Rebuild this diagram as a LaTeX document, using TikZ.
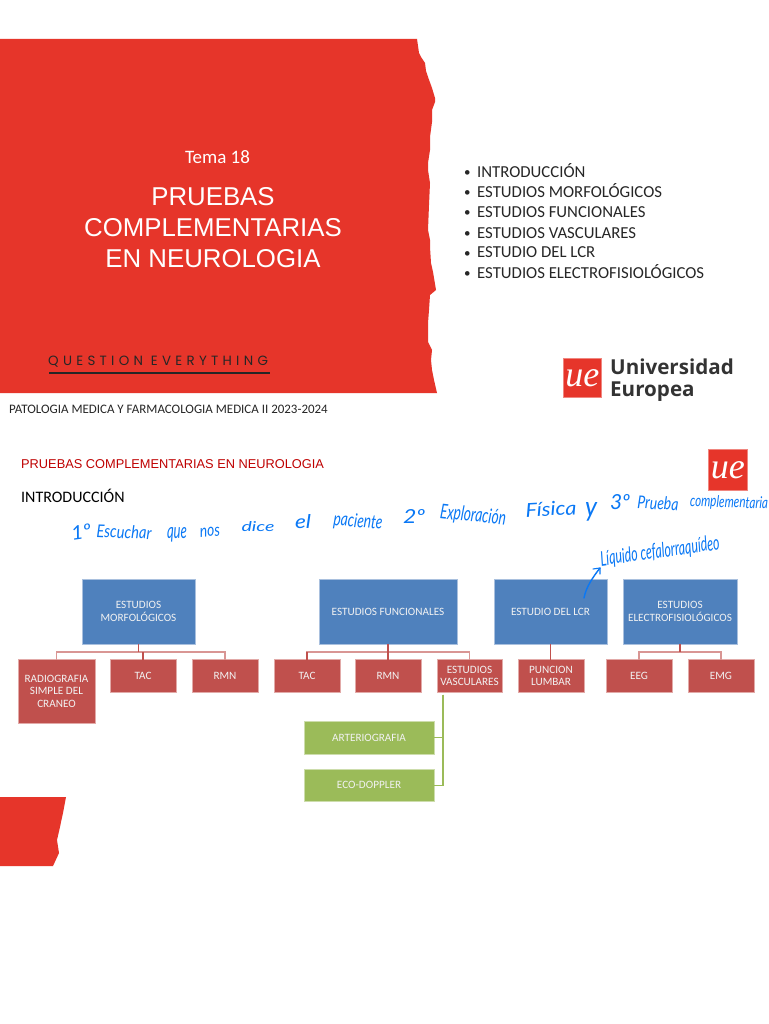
\documentclass[tikz,border=0pt]{standalone}
\usepackage{fontspec}
\setmainfont{Carlito}
\newfontfamily\arialf{Liberation Sans}
\newfontfamily\serifl{Liberation Serif}
\newfontfamily\qef[LetterSpace=32]{Poppins}
\newfontfamily\logof{Open Sans}
\newfontfamily\handf{Lato}
\definecolor{ured}{HTML}{E6352A}
\definecolor{bluebox}{HTML}{4F81BD}
\definecolor{bluebd}{HTML}{A9C0DE}
\definecolor{redbox}{HTML}{C0504D}
\definecolor{redbd}{HTML}{E2AAA8}
\definecolor{greenbox}{HTML}{9BBB59}
\definecolor{greenbd}{HTML}{CDDDAC}
\definecolor{ink}{HTML}{0A78F5}
\definecolor{bodytext}{HTML}{262626}
\definecolor{boxtext}{HTML}{F2F2F2}
\newcommand{\hw}[6]{\node[handw,rotate=#3] (#4) at (#1,#2) {\resizebox{#5pt}{#6pt}{\handf\itshape #4}};}
\tikzset{
  x=1pt,y=-1pt,
  handw/.style={inner sep=0pt,text=ink},
  boxbase/.style={anchor=north west,inner sep=0pt,outer sep=0pt,align=center,text=boxtext,line width=0.7pt,
     font=\fontsize{11.2}{12.3}\selectfont},
  bluen/.style={boxbase,fill=bluebox,draw=bluebd},
  redn/.style={boxbase,fill=redbox,draw=redbd},
  greenn/.style={boxbase,fill=greenbox,draw=greenbd},
  bus/.style={draw=redbox!60!white,line width=1.5pt},
  stem/.style={draw=redbox,line width=1.7pt},
  gline/.style={draw=greenbox,line width=1.4pt},
  listitem/.style={anchor=base west,inner sep=0pt,text=bodytext,font=\fontsize{16.75}{18}\selectfont},
  listdot/.style={anchor=base west,inner sep=0pt,text=bodytext,font=\fontsize{13}{14}\selectfont},
  logosq/.style={fill=ured,draw=ured!60!white,line width=0.5pt,anchor=north west,inner sep=0pt,text=white,
     font=\serifl\itshape\fontsize{36}{36}\selectfont},
  logoword/.style={anchor=west,inner sep=0pt,text=black!80,font=\logof\bfseries\fontsize{20.6}{22}\selectfont},
}
\begin{document}
\begin{tikzpicture}
\useasboundingbox (0,0) rectangle (768,1024);
\fill[white] (0,0) rectangle (768,1024);
% torn red panels
\fill[ured] (0,39) -- (417,39) -- (419,53) -- (421,57) -- (425,63) -- (426,71) -- (428,77) -- (432,88) -- (435,98) -- (435,102) -- (432,110) -- (432,122) -- (430,137) -- (430,150) -- (428,163) -- (428,170) -- (430,183) -- (429,205) -- (428,230) -- (430,240) -- (430,247) -- (431,263) -- (433,272) -- (436,290) -- (430,295) -- (429,310) -- (428,323) -- (428,342) -- (432,350) -- (431,360) -- (432,370) -- (434,380) -- (437,393) -- (0,393) -- cycle;
\fill[ured] (0,797) -- (66,797) -- (63,813) -- (61,822) -- (60,827) -- (57,840) -- (59,853) -- (53,866) -- (0,866) -- cycle;
% cover text
\node[text=white,inner sep=0pt,font=\fontsize{19}{22}\selectfont] (tema) at (217.5,157) {Tema 18};
\node[text=white,inner sep=0pt,align=center,font=\arialf\fontsize{25.8}{31}\selectfont] (titulo) at (213,228) {PRUEBAS\\COMPLEMENTARIAS\\EN NEUROLOGIA};
\node[anchor=west,inner sep=0pt,text=black!85,font=\qef\fontsize{13.4}{14}\selectfont] (qe) at (48,362) {QUESTION EVERYTHING};
\coordinate (qa) at (49,373); \coordinate (qb) at (270,373);
\draw[line width=1.2pt,black!85] (qa) -- (qb);
% list
\node[listdot] (l0) at (464,176.5) {•};
\node[listitem] (l1) at (477,177.5) {INTRODUCCIÓN};
\node[listdot] (m0) at (464,197) {•};
\node[listitem] (l2) at (477,198) {ESTUDIOS MORFOLÓGICOS};
\node[listdot] (n0) at (464,217) {•};
\node[listitem] (l3) at (477,218) {ESTUDIOS FUNCIONALES};
\node[listdot] (o0) at (464,237) {•};
\node[listitem] (l4) at (477,238) {ESTUDIOS VASCULARES};
\node[listdot] (p0) at (464,257) {•};
\node[listitem] (l5) at (477,258) {ESTUDIO DEL LCR};
\node[listdot] (q0) at (464,277.5) {•};
\node[listitem] (l6) at (477,278) {ESTUDIOS ELECTROFISIOLÓGICOS};
% logo
\node[logosq,minimum width=38pt,minimum height=39pt] (logo1) at (563,358) {ue};
\node[logoword] (logou) at (610,366.5) {Universidad};
\node[logoword] (logoe) at (610,391.5) {Europea};
\node[anchor=west,inner sep=0pt,text=bodytext,font=\fontsize{12.95}{15}\selectfont] (pat) at (9,409) {PATOLOGIA MEDICA Y FARMACOLOGIA MEDICA II 2023-2024};
% slide 2 header
\node[anchor=west,inner sep=0pt,text=red!75!black,font=\arialf\fontsize{12.8}{15}\selectfont] (h2) at (21,464) {PRUEBAS COMPLEMENTARIAS EN NEUROLOGIA};
\node[logosq,minimum width=39pt,minimum height=41pt] (logo2) at (708,449) {ue};
\node[anchor=base west,inner sep=0pt,text=black,font=\fontsize{16}{18}\selectfont] (intro) at (21,502) {INTRODUCCIÓN};
% handwriting
\hw{81}{532}{8}{1º}{20}{14}
\hw{124}{532}{-2}{Escuchar}{55}{13}
\hw{177}{535}{0}{que}{20}{11}
\hw{210}{532}{5}{nos}{20}{9}
\hw{258}{527}{0}{dice}{33}{10}
\hw{303}{522}{0}{el}{16}{14}
\hw{358}{522}{-5}{paciente}{49}{14}
\hw{414}{516}{0}{2º}{22}{14}
\hw{473}{516}{-6}{Exploración}{66}{15}
\hw{551}{509}{3}{Física}{51}{14}
\hw{591}{512}{0}{y}{12}{14}
\hw{620}{502}{0}{3º}{20}{15}
\hw{658}{503}{-3}{Prueba}{41}{13}
\hw{729}{503}{-2}{complementaria}{78}{12}
\hw{660}{552}{8}{Líquido cefalorraquídeo}{120}{15}
% blue boxes
\node[bluen,minimum width=113pt,minimum height=65pt] (b1) at (82,579) {ESTUDIOS\\MORFOLÓGICOS};
\node[bluen,minimum width=138pt,minimum height=65pt] (b2) at (319,579) {ESTUDIOS FUNCIONALES};
\node[bluen,minimum width=113pt,minimum height=65pt] (b3) at (494,579) {ESTUDIO DEL LCR};
\node[bluen,minimum width=114pt,minimum height=65pt] (b4) at (623,579) {ESTUDIOS\\ELECTROFISIOLÓGICOS};
% red boxes
\node[redn,minimum width=77pt,minimum height=63.5pt] (r1) at (18,659.5) {RADIOGRAFIA\\SIMPLE DEL\\CRANEO};
\node[redn,minimum width=66pt,minimum height=32.5pt] (r2) at (110,659.5) {TAC};
\node[redn,minimum width=66pt,minimum height=32.5pt] (r3) at (192,659.5) {RMN};
\node[redn,minimum width=66pt,minimum height=32.5pt] (r4) at (274,659.5) {TAC};
\node[redn,minimum width=66pt,minimum height=32.5pt] (r5) at (355,659.5) {RMN};
\node[redn,minimum width=65pt,minimum height=32.5pt] (r6) at (437,659.5) {ESTUDIOS\\VASCULARES};
\node[redn,minimum width=66pt,minimum height=32.5pt] (r7) at (518,659.5) {PUNCION\\LUMBAR};
\node[redn,minimum width=66pt,minimum height=32.5pt] (r8) at (606,659.5) {EEG};
\node[redn,minimum width=66pt,minimum height=32.5pt] (r9) at (688,659.5) {EMG};
% green boxes
\node[greenn,minimum width=130pt,minimum height=32.5pt] (g1) at (304,721.5) {ARTERIOGRAFIA};
\node[greenn,minimum width=130pt,minimum height=32.5pt] (g2) at (304,769) {ECO-DOPPLER};
% connectors
\coordinate (j1) at (138.5,652); \coordinate (j2) at (388,652); \coordinate (j4) at (680,652);
\draw[bus] (j1) -| (r1.north); \draw[bus] (j1) -| (r3.north);
\draw[stem] (b1.south) -- (j1); \draw[stem] (j1 -| r2.north) -- (r2.north);
\draw[bus] (j2) -| (r4.north); \draw[bus] (j2) -| (r6.north);
\draw[stem] (j2 -| r4.north) -- (r4.north);
\draw[stem] (b2.south) -- (b2.south |- r5.north);
\draw[stem] (b3.south) -- (b3.south |- r7.north);
\draw[bus] (j4) -| (r8.north); \draw[bus] (j4) -| (r9.north);
\draw[stem] (b4.south) -- (j4);
\coordinate (vb) at ([xshift=6pt,yshift=-2.5pt]r6.south west);
\draw[gline] (vb) |- (g1.east);
\draw[gline] (vb) |- (g2.east);
% handwritten arrow
\coordinate (aa) at (584,598); \coordinate (ab) at (600,568);
\coordinate (ac) at (593,569); \coordinate (ad) at (600,574);
\draw[ink,line width=1.4pt,line cap=round,line join=round] (aa) .. controls (586,587) and (593,577) .. (ab);
\draw[ink,line width=1.1pt,line cap=round,line join=round] (ac) -- (ab) -- (ad);
\end{tikzpicture}
\end{document}
